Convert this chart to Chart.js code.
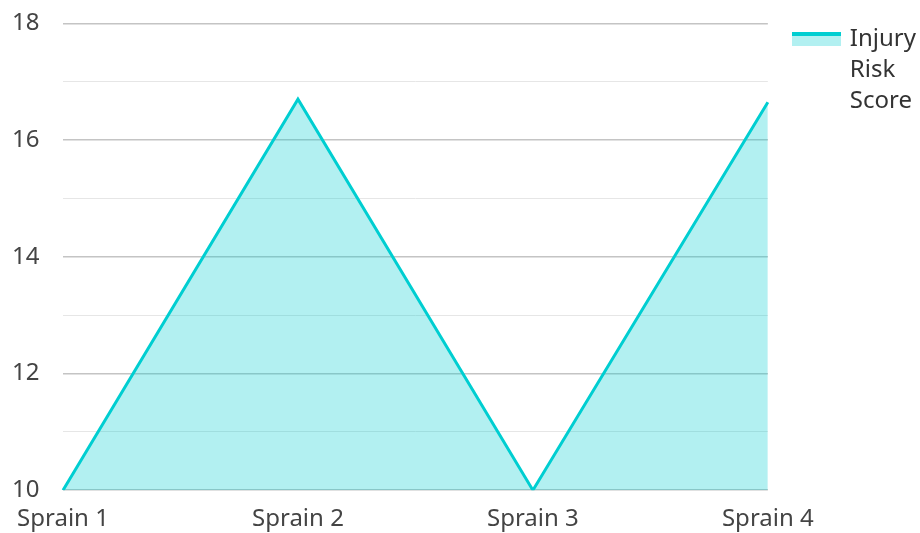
<!DOCTYPE html>
<html>
<head>
<meta charset="utf-8">
<script src="https://cdn.jsdelivr.net/npm/chart.js@4"></script>
<style>
  html, body { margin: 0; padding: 0; background: #fff; }
  #wrap { width: 920px; height: 533px; }
</style>
</head>
<body>
<div id="wrap"><canvas id="chart"></canvas></div>
<script>
const categories = ['Sprain 1', 'Sprain 2', 'Sprain 3', 'Sprain 4'];
const riskScores = [10, 16.7, 10, 16.65];
const seriesLabel = ['Injury', 'Risk', 'Score'];
const yMin = 10;
const yMax = 18;

const lineColor = '#00CED1';
const fillColor = 'rgba(0, 206, 209, 0.3)';

// legend swatch: light fill with a thick line on top
const swatch = document.createElement('canvas');
swatch.width = 49;
swatch.height = 14;
const sctx = swatch.getContext('2d');
sctx.fillStyle = fillColor;
sctx.fillRect(0, 0, 49, 14);
sctx.fillStyle = lineColor;
sctx.fillRect(0, 0, 49, 4);

new Chart(document.getElementById('chart'), {
  type: 'line',
  data: {
    labels: categories,
    datasets: [{
      label: seriesLabel.join(' '),
      data: riskScores,
      borderColor: lineColor,
      backgroundColor: fillColor,
      borderWidth: 3,
      fill: 'origin',
      tension: 0,
      pointRadius: 0,
      pointHoverRadius: 0
    }]
  },
  options: {
    responsive: true,
    maintainAspectRatio: false,
    animation: false,
    layout: { padding: { left: 12, right: -6, top: 0, bottom: -16 } },
    plugins: {
      tooltip: { enabled: false },
      legend: {
        position: 'right',
        align: 'start',
        labels: {
          usePointStyle: true,
          pointStyleWidth: 43,
          boxHeight: 14,
          color: '#333',
          font: { family: 'Noto Sans', size: 24, lineHeight: 1.3 },
          padding: 27,
          generateLabels: () => [{
            text: seriesLabel,
            pointStyle: swatch,
            fillStyle: fillColor,
            strokeStyle: lineColor,
            lineWidth: 0,
            fontColor: '#333',
            datasetIndex: 0
          }]
        }
      }
    },
    scales: {
      x: {
        offset: false,
        grid: { display: false, drawTicks: false },
        border: { display: false },
        ticks: {
          color: '#444',
          font: { family: 'Noto Sans', size: 24 },
          padding: 15,
          maxRotation: 0
        }
      },
      y: {
        min: yMin,
        max: yMax,
        afterFit: scale => { scale.width = 51; },
        grid: {
          drawTicks: false,
          color: ctx => (ctx.tick && ctx.tick.value % 2 === 0) ? '#c4c4c4' : '#e6e6e6',
          lineWidth: ctx => (ctx.tick && ctx.tick.value % 2 === 0) ? 1.5 : 1
        },
        border: { display: false },
        ticks: {
          stepSize: 1,
          color: '#444',
          padding: 9,
          crossAlign: 'far',
          font: { family: 'Noto Sans', size: 24 },
          callback: v => (v % 2 === 0 ? v : '')
        }
      }
    }
  }
});
</script>
</body>
</html>
